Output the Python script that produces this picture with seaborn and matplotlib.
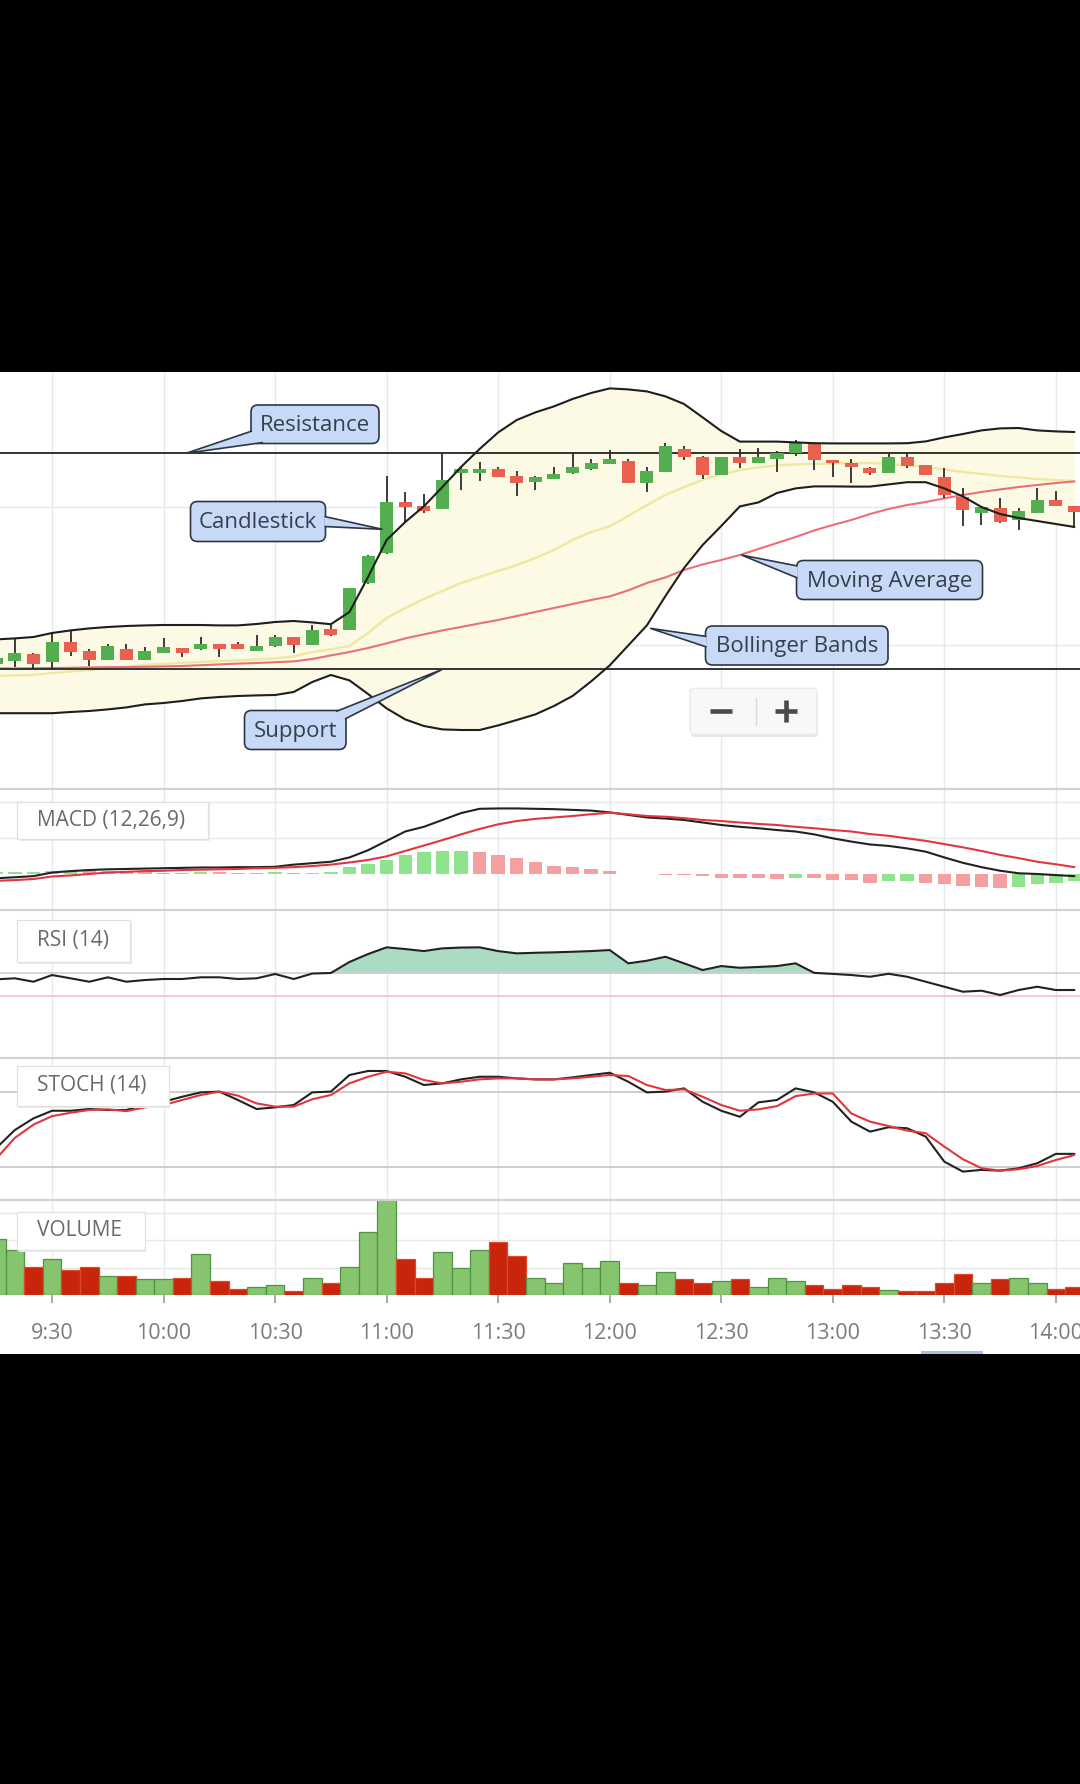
import matplotlib
matplotlib.use("Agg")
import numpy as np
import pandas as pd
import matplotlib.pyplot as plt
from matplotlib.patches import FancyBboxPatch, Polygon, Rectangle
import seaborn as sns

# ------------------------------------------------------------------ data
first_bar, last_bar, bar_minutes = "9:15", "14:05", 5
tick_labels = ["9:30", "10:00", "10:30", "11:00", "11:30",
               "12:00", "12:30", "13:00", "13:30", "14:00"]

open_ = [100.25, 100.42, 100.75, 100.34, 101.34, 100.90, 100.45, 100.99, 100.45, 100.82,
         101.04, 100.99, 101.25, 101.25, 100.90, 101.15, 101.59, 101.20, 101.99, 101.95,
         104.29, 105.79, 108.37, 108.15, 108.00, 109.79, 109.79, 110.00, 109.65, 109.34,
         109.52, 109.79, 109.99, 110.25, 110.40, 109.32, 109.87, 110.99, 110.62, 109.70,
         110.59, 110.32, 110.49, 110.79, 111.29, 110.45, 110.29, 110.04, 109.82, 110.59,
         110.20, 109.62, 108.62, 107.82, 108.04, 107.45, 107.82, 108.45, 108.15]
high = [100.70, 101.54, 100.78, 101.87, 101.92, 101.00, 101.25, 101.25, 101.09, 101.54,
        101.06, 101.62, 101.27, 101.37, 101.70, 101.70, 101.61, 102.20, 102.20, 104.06,
        105.69, 109.65, 108.87, 108.74, 110.82, 110.12, 110.37, 110.12, 109.92, 109.64,
        110.12, 110.82, 110.49, 110.95, 110.49, 110.12, 111.32, 111.15, 110.64, 110.61,
        110.99, 111.04, 110.92, 111.45, 111.31, 110.47, 110.49, 110.12, 110.82, 110.82,
        110.22, 110.04, 109.04, 108.14, 108.54, 108.04, 109.04, 108.92, 108.17]
low = [100.15, 100.12, 99.98, 100.04, 100.65, 100.17, 100.43, 100.43, 100.43, 100.80,
       100.62, 100.97, 100.62, 100.98, 100.88, 101.09, 100.79, 101.18, 101.65, 101.93,
       104.27, 105.77, 107.29, 107.79, 107.98, 108.95, 109.42, 109.60, 108.67, 108.95,
       109.50, 109.77, 109.97, 110.23, 109.30, 108.84, 109.85, 110.45, 109.49, 109.68,
       110.04, 110.30, 109.87, 110.67, 109.95, 109.59, 109.32, 109.70, 109.80, 110.04,
       109.68, 108.54, 107.15, 107.20, 107.29, 106.95, 107.80, 108.13, 107.15]
close = [100.55, 100.79, 100.25, 101.34, 100.84, 100.45, 101.17, 100.45, 100.92, 101.09,
         100.82, 101.25, 100.99, 101.00, 101.17, 101.62, 101.20, 101.95, 101.70, 104.04,
         105.67, 108.37, 108.12, 107.90, 109.45, 110.00, 110.00, 109.62, 109.32, 109.62,
         109.75, 110.09, 110.32, 110.49, 109.32, 109.92, 111.15, 110.62, 109.70, 110.59,
         110.32, 110.59, 110.79, 111.32, 110.45, 110.29, 110.12, 109.79, 110.59, 110.15,
         109.70, 108.70, 107.95, 108.12, 107.37, 107.92, 108.45, 108.15, 107.87]

bb_upper = [101.48, 101.53, 101.60, 101.80, 101.93, 102.03, 102.10, 102.15, 102.18, 102.20,
            102.20, 102.20, 102.18, 102.18, 102.25, 102.35, 102.40, 102.33, 102.24, 102.85,
            104.60, 106.45, 107.35, 108.13, 109.10, 110.10, 111.00, 111.83, 112.45, 112.83,
            113.13, 113.50, 113.80, 114.03, 113.98, 113.88, 113.63, 113.25, 112.58, 111.90,
            111.37, 111.37, 111.37, 111.33, 111.29, 111.28, 111.28, 111.28, 111.28, 111.29,
            111.38, 111.58, 111.75, 111.93, 112.03, 112.05, 111.93, 111.88, 111.85]
bb_lower = [97.79, 97.79, 97.79, 97.79, 97.85, 97.90, 97.98, 98.08, 98.23, 98.30,
            98.40, 98.53, 98.60, 98.65, 98.68, 98.70, 98.85, 99.35, 99.70, 99.43,
            98.75, 98.03, 97.48, 97.15, 96.98, 96.95, 96.95, 97.18, 97.45, 97.73,
            98.15, 98.65, 99.38, 100.18, 101.18, 102.18, 103.65, 105.05, 106.20, 107.15,
            108.13, 108.33, 108.80, 109.03, 109.13, 109.13, 109.12, 109.12, 109.23, 109.34,
            109.34, 109.03, 108.63, 108.10, 107.75, 107.55, 107.40, 107.25, 107.10]
bb_middle = [99.65, 99.68, 99.70, 99.80, 99.88, 99.95, 100.03, 100.10, 100.20, 100.25,
             100.30, 100.35, 100.40, 100.43, 100.48, 100.53, 100.63, 100.85, 100.98, 101.15,
             101.80, 102.55, 103.05, 103.50, 103.90, 104.30, 104.60, 104.90, 105.20, 105.55,
             105.95, 106.45, 106.85, 107.13, 107.65, 108.20, 108.70, 109.10, 109.45, 109.73,
             109.95, 110.08, 110.18, 110.23, 110.25, 110.28, 110.30, 110.30, 110.25, 110.18,
             110.10, 109.98, 109.85, 109.75, 109.65, 109.58, 109.50, 109.45, 109.40]
moving_avg = [100.03, 100.03, 100.04, 100.05, 100.06, 100.08, 100.09, 100.10, 100.11, 100.13,
              100.15, 100.19, 100.23, 100.27, 100.30, 100.34, 100.38, 100.50, 100.68, 100.85,
              101.05, 101.28, 101.53, 101.73, 101.93, 102.10, 102.28, 102.45, 102.65, 102.85,
              103.05, 103.25, 103.45, 103.63, 103.93, 104.30, 104.58, 104.95, 105.23, 105.45,
              105.70, 106.00, 106.30, 106.60, 106.93, 107.20, 107.45, 107.75, 108.00, 108.20,
              108.35, 108.53, 108.70, 108.85, 108.98, 109.10, 109.20, 109.30, 109.38]
resistance = 110.8
support = 100.0

macd_line = [-1.2, -0.9, -0.6, 0.4, 0.8, 1.1, 1.3, 1.4, 1.5, 1.6,
             1.7, 1.8, 1.8, 1.9, 1.9, 2.0, 2.6, 3.0, 3.4, 4.6,
             6.6, 9.2, 11.8, 13.1, 15.0, 16.9, 18.1, 18.2, 18.2, 18.1,
             18.0, 17.8, 17.6, 17.1, 16.4, 15.7, 15.4, 15.0, 14.3, 13.6,
             13.1, 12.7, 12.2, 11.8, 11.0, 9.9, 9.0, 8.2, 7.8, 7.1,
             6.2, 4.6, 3.1, 1.9, 0.9, 0.2, 0.0, -0.3, -0.6]
macd_signal = [-1.9, -1.7, -1.4, -0.7, -0.4, 0.0, 0.4, 0.6, 0.8, 0.9,
               1.1, 1.2, 1.3, 1.4, 1.6, 1.7, 1.9, 2.2, 2.6, 3.2,
               3.9, 4.9, 6.4, 7.9, 9.4, 11.0, 12.5, 13.8, 14.7, 15.3,
               15.7, 16.1, 16.6, 17.0, 16.6, 16.1, 15.9, 15.5, 15.0, 14.7,
               14.3, 13.9, 13.6, 13.1, 12.7, 12.2, 11.8, 11.1, 10.6, 9.9,
               9.2, 8.3, 7.4, 6.4, 5.3, 4.4, 3.4, 2.7, 1.9]
macd_hist = [0.56, 0.61, 0.67, 0.83, 0.89, 0.72, 0.78, 0.67, 0.50, 0.33,
             0.39, 0.50, 0.44, 0.39, 0.33, 0.42, 0.33, 0.39, 0.44, 2.03,
             2.69, 3.89, 5.28, 6.19, 6.25, 6.25, 6.19, 5.28, 4.36, 3.33,
             2.22, 1.86, 1.31, 0.92, 0.00, -0.14, -0.17, -0.28, -0.56, -1.19,
             -1.22, -1.25, -1.28, -1.11, -1.25, -1.72, -1.78, -2.42, -1.86, -1.81,
             -2.58, -2.78, -3.33, -3.53, -3.97, -3.53, -2.86, -2.58, -1.94]

rsi = [54.7, 55.6, 52.6, 58.5, 55.6, 52.6, 56.5, 52.6, 54.1, 55.0,
       55.0, 56.5, 56.5, 55.0, 55.6, 59.4, 55.0, 59.8, 60.3, 70.0,
       77.0, 82.9, 81.4, 79.6, 82.0, 82.7, 82.9, 79.6, 77.6, 78.1,
       78.5, 79.0, 79.6, 80.5, 68.8, 71.1, 74.6, 68.8, 62.9, 66.4,
       64.9, 65.6, 66.4, 68.8, 60.4, 59.5, 58.5, 57.0, 59.6, 57.0,
       52.6, 48.2, 43.8, 44.7, 40.9, 45.3, 48.2, 45.3, 45.3]
rsi_upper, rsi_lower = 60, 40

stoch_k = [35.0, 49.4, 58.7, 64.8, 64.8, 66.2, 65.4, 65.4, 69.9, 72.0,
           76.0, 79.5, 80.1, 73.4, 66.2, 67.5, 69.4, 79.5, 80.1, 93.4,
           96.6, 96.6, 92.0, 85.4, 86.7, 89.9, 92.0, 92.0, 90.7, 89.9,
           89.9, 91.5, 93.4, 95.2, 88.0, 79.5, 80.1, 82.7, 72.0, 64.8,
           60.0, 71.5, 73.4, 82.7, 79.5, 72.0, 56.1, 48.1, 51.6, 50.8,
           44.1, 24.1, 16.1, 17.5, 16.9, 18.8, 22.8, 30.3, 30.3]
stoch_d = [26.5, 43.1, 53.7, 60.5, 63.2, 65.4, 65.9, 64.5, 67.5, 69.4,
           73.4, 77.4, 80.1, 76.9, 70.7, 68.1, 68.1, 74.0, 77.4, 86.7,
           92.0, 96.0, 94.7, 89.4, 86.7, 88.0, 89.9, 90.7, 90.7, 89.9,
           89.9, 90.7, 92.0, 93.4, 92.6, 85.4, 81.4, 81.9, 76.0, 69.4,
           64.8, 65.9, 68.5, 76.5, 78.6, 78.6, 62.6, 56.1, 52.6, 48.9,
           46.8, 36.1, 26.0, 18.8, 16.9, 18.0, 20.6, 25.4, 29.4]
stoch_upper, stoch_lower = 80, 20

volume_k = [40.7, 32.7, 20.4, 26.2, 18.2, 20.4, 13.8, 13.8, 11.6, 11.6,
            12.4, 29.8, 10.2, 4.4, 5.8, 7.3, 2.9, 12.4, 8.7, 20.4,
            45.8, 69.1, 26.2, 12.4, 31.3, 19.6, 32.7, 38.5, 28.4, 12.4,
            8.7, 23.3, 19.6, 24.7, 8.7, 7.3, 16.7, 11.6, 8.7, 10.2,
            11.6, 5.8, 12.4, 10.2, 7.3, 4.4, 7.3, 5.8, 3.6, 2.9,
            2.9, 8.7, 15.3, 8.7, 11.6, 12.4, 8.7, 4.4, 5.8]


# ------------------------------------------------------------------ helpers
def clock_to_minutes(label):
    hh, mm = label.split(":")
    return int(hh) * 60 + int(mm) - 9 * 60


bars = pd.DataFrame({
    "minute": np.arange(clock_to_minutes(first_bar), clock_to_minutes(last_bar) + 1, bar_minutes),
    "open": open_, "high": high, "low": low, "close": close,
    "upper": bb_upper, "lower": bb_lower, "middle": bb_middle, "ma": moving_avg,
    "macd": macd_line, "signal": macd_signal, "hist": macd_hist,
    "rsi": rsi, "k": stoch_k, "d": stoch_d, "volume": volume_k,
})
bars["rising"] = bars["close"] >= bars["open"]
bars["hist_up"] = bars["hist"].diff().fillna(1) >= 0
tick_minutes = [clock_to_minutes(t) for t in tick_labels]

W, H = 1080, 1784
X_LO, X_HI = 16.0, 306.5

sns.set_theme(style="white")
plt.rcParams["font.family"] = ["Open Sans", "DejaVu Sans"]

fig = plt.figure(figsize=(W / 100, H / 100), dpi=100, facecolor="black")
fig.add_artist(Rectangle((0, 1 - 1354 / H), 1, (1354 - 372) / H,
                         transform=fig.transFigure, facecolor="white",
                         edgecolor="none", zorder=-5))


def panel(top, bottom, ylim, yticks):
    ax = fig.add_axes([0, 1 - bottom / H, 1, (bottom - top) / H])
    ax.set_facecolor("white")
    return ax, ylim, yticks


def finish(ax, ylim, yticks):
    ax.set_xlim(X_LO, X_HI)
    ax.set_ylim(*ylim)
    ax.set_xticks(tick_minutes)
    ax.set_yticks(yticks)
    ax.grid(True, color="#e8e8e8", lw=1.0)
    ax.set_axisbelow(True)
    ax.set_xlabel("")
    ax.set_ylabel("")
    ax.tick_params(left=False, bottom=False, labelleft=False, labelbottom=False)
    for s in ax.spines.values():
        s.set_visible(False)


GREEN_C, RED_C = "#52ae4f", "#e9604f"
x = bars["minute"].to_numpy()

# ------------------------------------------------------------------ price panel
ax_p, yl, yt = panel(372, 789, (94.0, 114.85), [101.2, 108.1])
ax_p.fill_between(x, bars["lower"], bars["upper"], color="#fcfae4", lw=0, zorder=1)
sns.lineplot(data=bars, x="minute", y="middle", ax=ax_p, color="#efe7a2", lw=1.7, zorder=2)
sns.lineplot(data=bars, x="minute", y="ma", ax=ax_p, color="#ec6f78", lw=1.5, zorder=2)
ax_p.axhline(resistance, color="#333333", lw=1.4, zorder=3)
ax_p.axhline(support, color="#333333", lw=1.4, zorder=3)
body_lo = np.minimum(bars["open"], bars["close"])
body_h = np.maximum((bars["close"] - bars["open"]).abs(), 0.07)
candle_colors = np.where(bars["rising"], GREEN_C, RED_C)
ax_p.vlines(x, bars["low"], bars["high"], color="#2e2e2e", lw=1.3, zorder=4)
ax_p.bar(x, body_h, bottom=body_lo, width=3.5, color=candle_colors, lw=0, zorder=5)
sns.lineplot(data=bars, x="minute", y="upper", ax=ax_p, color="#1e1e1e", lw=1.5, zorder=6)
sns.lineplot(data=bars, x="minute", y="lower", ax=ax_p, color="#1e1e1e", lw=1.5, zorder=6)
finish(ax_p, yl, yt)

# ------------------------------------------------------------------ MACD panel
ax_m, yl, yt = panel(789, 910, (-10.0, 23.6), [10, 20])
ax_m.bar(x, bars["hist"], width=3.6,
         color=np.where(bars["hist_up"], "#8fe38c", "#f5a0a0"), lw=0, zorder=2)
sns.lineplot(data=bars, x="minute", y="macd", ax=ax_m, color="#222222", lw=1.5, zorder=3)
sns.lineplot(data=bars, x="minute", y="signal", ax=ax_m, color="#e1363f", lw=1.5, zorder=3)
finish(ax_m, yl, yt)

# ------------------------------------------------------------------ RSI panel
ax_r, yl, yt = panel(910, 1058, (-14.6, 115.8), [])
r = bars["rsi"].to_numpy()
ax_r.fill_between(x, rsi_upper, r, where=r >= rsi_upper, interpolate=True,
                  color="#a9dcc3", lw=0, zorder=1)
ax_r.axhline(rsi_upper, color="#cfcfcf", lw=1.2, zorder=1.5)
ax_r.axhline(rsi_lower, color="#f2bfc7", lw=1.2, zorder=1.5)
sns.lineplot(data=bars, x="minute", y="rsi", ax=ax_r, color="#222222", lw=1.5, zorder=3)
finish(ax_r, yl, yt)

# ------------------------------------------------------------------ STOCH panel
ax_s, yl, yt = panel(1058, 1200, (-6.6, 107.0), [])
ax_s.axhline(stoch_upper, color="#c9c9c9", lw=1.3, zorder=1.5)
ax_s.axhline(stoch_lower, color="#c9c9c9", lw=1.3, zorder=1.5)
sns.lineplot(data=bars, x="minute", y="k", ax=ax_s, color="#222222", lw=1.5, zorder=3)
sns.lineplot(data=bars, x="minute", y="d", ax=ax_s, color="#e1363f", lw=1.5, zorder=3)
finish(ax_s, yl, yt)

# ------------------------------------------------------------------ volume panel
ax_v, yl, yt = panel(1200, 1295, (0, 69.1), [20, 40, 60])
ax_v.bar(x, bars["volume"], width=bar_minutes,
         color=np.where(bars["rising"], "#86c46e", "#c8250c"),
         edgecolor=np.where(bars["rising"], "#4f9442", "#dc4a26"), lw=0.9, zorder=2)
finish(ax_v, yl, yt)
ax_v.set_xticklabels(tick_labels)
ax_v.tick_params(axis="x", bottom=True, labelbottom=True, length=6, width=1.2,
                 color="#9a9a9a", labelcolor="#7b7b7b", labelsize=15.5, pad=14)

# ------------------------------------------------------------------ overlay (pixel space)
ov = fig.add_axes([0, 0, 1, 1], zorder=10)
ov.set_xlim(0, W)
ov.set_ylim(H, 0)
ov.axis("off")

ov.hlines([789, 910, 1058, 1200], 0, W, color="#d2d2d2", lw=1.6)

BOX_FC, BOX_EC, BOX_TXT = "#c7d9f7", "#2d3744", "#36404d"


def callout(text, x0, y0, x1, y1, base_a, base_b, tip):
    ov.add_patch(FancyBboxPatch((x0, y0), x1 - x0, y1 - y0,
                                boxstyle="round,pad=0,rounding_size=7",
                                fc=BOX_FC, ec=BOX_EC, lw=1.2, zorder=5))
    ov.add_patch(Polygon([base_a, tip, base_b], closed=False,
                         fc=BOX_FC, ec=BOX_EC, lw=1.2, zorder=6, joinstyle="miter"))
    ov.text((x0 + x1) / 2, (y0 + y1) / 2 + 1, text, ha="center", va="center",
            fontsize=16, color=BOX_TXT, zorder=7)


callout("Resistance", 251, 405, 379, 443.5, (252, 431), (263, 442.5), (186, 453.3))
callout("Candlestick", 190.5, 501.5, 325.5, 541.5, (324.5, 516.5), (324.5, 526.5), (382.5, 529.3))
callout("Support", 244.5, 710.5, 346, 749.5, (336, 711.5), (345, 719), (442.5, 669.3))
callout("Moving Average", 796.5, 560.5, 982.5, 599.5, (797.5, 566), (797.5, 578), (741.4, 555))
callout("Bollinger Bands", 705.5, 626, 888, 665, (706.5, 636.5), (706.5, 647), (650.2, 628.3))

# zoom widget
ov.add_patch(FancyBboxPatch((691, 691), 127, 46, boxstyle="round,pad=0,rounding_size=4",
                            fc="#e6e6e6", ec="none", zorder=4))
ov.add_patch(FancyBboxPatch((690, 688.3), 127, 46, boxstyle="round,pad=0,rounding_size=4",
                            fc="#f8f8f8", ec="#ebebeb", lw=1, zorder=5))
ov.hlines(711, 710, 732, color="#4a4a4a", lw=3.3, zorder=6)
ov.hlines(711, 774.5, 796.5, color="#4a4a4a", lw=3.3, zorder=6)
ov.vlines(785.5, 700, 722, color="#4a4a4a", lw=3.3, zorder=6)
ov.vlines(756.3, 698, 725, color="#d8d8d8", lw=1.0, zorder=6)

# indicator captions
for label, top, bottom, right in [("MACD (12,26,9)", 801.7, 839.3, 208.3),
                                  ("RSI (14)", 920, 961.7, 130.2),
                                  ("STOCH (14)", 1066, 1106, 168.7),
                                  ("VOLUME", 1211.7, 1250, 144.6)]:
    ov.add_patch(Rectangle((18.5, top + 2), right - 17.2, bottom - top,
                           fc="#ececec", ec="none", zorder=3))
    ov.add_patch(Rectangle((17.2, top), right - 17.2, bottom - top,
                           fc="white", ec="#e0e0e0", lw=0.9, zorder=4))
    ov.text(37, (top + bottom) / 2, label, ha="left", va="center",
            fontsize=15, color="#6a6a6a", zorder=5)

# scrollbar thumb peeking at the bottom edge
ov.add_patch(Rectangle((920.5, 1351), 62, 3, fc="#a9c0e6", ec="none", zorder=5))

fig.savefig("out.png", dpi=100, facecolor="black")
